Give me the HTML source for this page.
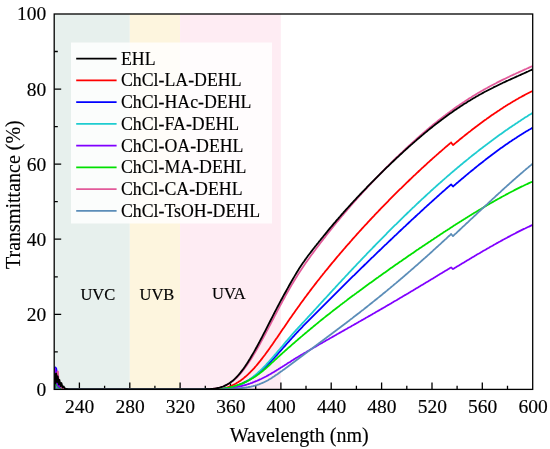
<!DOCTYPE html>
<html lang="en"><head><meta charset="utf-8"><title>Transmittance spectra</title>
<style>html,body{margin:0;padding:0;background:#fff}body{width:550px;height:449px;overflow:hidden}</style></head>
<body>
<svg width="550" height="449" viewBox="0 0 550 449" style="display:block">
<defs><clipPath id="cp"><rect x="54.2" y="14.0" width="478.5" height="376.0"/></clipPath></defs>
<rect width="550" height="449" fill="#fff"/>
<rect x="54.2" y="14.0" width="75.6" height="375.4" fill="#E7F0ED"/>
<rect x="129.8" y="14.0" width="50.4" height="375.4" fill="#FDF5DE"/>
<rect x="180.1" y="14.0" width="100.7" height="375.4" fill="#FEECF3"/>
<rect x="71" y="42.5" width="201" height="181.0" fill="#ffffff" fill-opacity="0.82"/>
<path d="M79.4 389.4v-7M104.6 389.4v-3.6M129.8 389.4v-7M154.9 389.4v-3.6M180.1 389.4v-7M205.3 389.4v-3.6M230.5 389.4v-7M255.7 389.4v-3.6M280.9 389.4v-7M306.0 389.4v-3.6M331.2 389.4v-7M356.4 389.4v-3.6M381.6 389.4v-7M406.8 389.4v-3.6M432.0 389.4v-7M457.1 389.4v-3.6M482.3 389.4v-7M507.5 389.4v-3.6M54.2 351.9h3.6M54.2 314.3h7M54.2 276.8h3.6M54.2 239.2h7M54.2 201.7h3.6M54.2 164.2h7M54.2 126.6h3.6M54.2 89.1h7M54.2 51.5h3.6" stroke="#000" stroke-width="1.3" fill="none"/>
<g fill="none" stroke-width="1.8" stroke-linejoin="round" stroke-linecap="butt" clip-path="url(#cp)">
<path d="M54.3 381.0L55.5 378.0L56.5 382.0L57.5 384.0L58.5 387.0L60.0 388.5L66.0 389.5" stroke="#FF0000"/>
<path d="M66 389.5L196.0 389.5L197.0 389.5L198.0 389.5L199.0 389.5L200.0 389.5L201.0 389.5L202.0 389.5L203.0 389.5L204.0 389.5L205.0 389.5L206.0 389.5L207.0 389.5L208.0 389.5L209.0 389.5L210.0 389.5L211.0 389.5L212.0 389.5L213.0 389.5L214.0 389.5L215.0 389.5L216.0 389.5L217.0 389.5L218.0 389.5L219.0 389.5L220.0 389.5L221.0 389.1L222.0 388.9L223.0 388.7L224.0 388.4L225.0 388.2L226.0 387.9L227.0 387.5L228.0 387.2L229.0 386.8L230.0 386.4L231.0 386.0L232.0 385.5L233.0 385.0L234.0 384.5L235.0 384.0L236.0 383.4L237.0 382.8L238.0 382.2L239.0 381.5L240.0 380.9L241.0 380.2L242.0 379.4L243.0 378.7L244.0 377.9L245.0 377.0L246.0 376.2L247.0 375.3L248.0 374.4L249.0 373.4L250.0 372.5L251.0 371.4L252.0 370.4L253.0 369.3L254.0 368.3L255.0 367.1L256.0 366.0L257.0 364.8L258.0 363.6L259.0 362.4L260.0 361.2L261.0 359.9L262.0 358.6L263.0 357.3L264.0 356.0L265.0 354.7L266.0 353.3L267.0 351.9L268.0 350.6L269.0 349.2L270.0 347.8L271.0 346.3L272.0 344.9L273.0 343.5L274.0 342.0L275.0 340.6L276.0 339.1L277.0 337.7L278.0 336.2L279.0 334.7L280.0 333.3L281.0 331.8L282.0 330.3L283.0 328.8L284.0 327.4L285.0 325.9L286.0 324.4L287.0 323.0L288.0 321.5L289.0 320.1L290.0 318.6L291.0 317.2L292.0 315.8L293.0 314.3L294.0 312.9L295.0 311.5L296.0 310.1L297.0 308.7L298.0 307.3L299.0 305.9L300.0 304.5L301.0 303.1L302.0 301.7L303.0 300.4L304.0 299.0L305.0 297.6L306.0 296.3L307.0 294.9L308.0 293.6L309.0 292.3L310.0 290.9L311.0 289.6L312.0 288.3L313.0 287.0L314.0 285.7L315.0 284.4L316.0 283.1L317.0 281.8L318.0 280.5L319.0 279.3L320.0 278.0L321.0 276.7L322.0 275.5L323.0 274.2L324.0 273.0L325.0 271.7L326.0 270.5L327.0 269.3L328.0 268.1L329.0 266.8L330.0 265.6L331.0 264.4L332.0 263.2L333.0 262.0L334.0 260.8L335.0 259.6L336.0 258.4L337.0 257.2L338.0 256.0L339.0 254.9L340.0 253.7L341.0 252.5L342.0 251.3L343.0 250.2L344.0 249.0L345.0 247.9L346.0 246.7L347.0 245.5L348.0 244.4L349.0 243.3L350.0 242.1L351.0 241.0L352.0 239.8L353.0 238.7L354.0 237.6L355.0 236.5L356.0 235.4L357.0 234.2L358.0 233.1L359.0 232.0L360.0 230.9L361.0 229.8L362.0 228.7L363.0 227.6L364.0 226.5L365.0 225.4L366.0 224.4L367.0 223.3L368.0 222.2L369.0 221.1L370.0 220.0L371.0 219.0L372.0 217.9L373.0 216.8L374.0 215.8L375.0 214.7L376.0 213.7L377.0 212.6L378.0 211.6L379.0 210.5L380.0 209.5L381.0 208.4L382.0 207.4L383.0 206.4L384.0 205.3L385.0 204.3L386.0 203.3L387.0 202.3L388.0 201.3L389.0 200.2L390.0 199.2L391.0 198.2L392.0 197.2L393.0 196.2L394.0 195.2L395.0 194.2L396.0 193.2L397.0 192.2L398.0 191.2L399.0 190.2L400.0 189.2L401.0 188.3L402.0 187.3L403.0 186.3L404.0 185.3L405.0 184.4L406.0 183.4L407.0 182.4L408.0 181.5L409.0 180.5L410.0 179.5L411.0 178.6L412.0 177.6L413.0 176.7L414.0 175.7L415.0 174.8L416.0 173.8L417.0 172.9L418.0 172.0L419.0 171.0L420.0 170.1L421.0 169.2L422.0 168.2L423.0 167.3L424.0 166.4L425.0 165.5L426.0 164.6L427.0 163.6L428.0 162.7L429.0 161.8L430.0 160.9L431.0 160.0L432.0 159.1L433.0 158.2L434.0 157.3L435.0 156.4L436.0 155.6L437.0 154.7L438.0 153.8L439.0 152.9L440.0 152.0L441.0 151.2L442.0 150.3L443.0 149.4L444.0 148.6L445.0 147.7L446.0 146.8L447.0 146.0L448.0 145.1L449.0 144.3L450.0 143.4L451.0 142.6L451.1 142.5L452.0 143.7L453.0 145.1L453.0 145.1L454.0 144.3L455.0 143.4L456.0 142.6L457.0 141.8L458.0 141.0L459.0 140.1L460.0 139.3L461.0 138.5L462.0 137.7L463.0 136.9L464.0 136.1L465.0 135.3L466.0 134.5L467.0 133.7L468.0 132.9L469.0 132.1L470.0 131.4L471.0 130.6L472.0 129.8L473.0 129.0L474.0 128.3L475.0 127.5L476.0 126.7L477.0 126.0L478.0 125.2L479.0 124.5L480.0 123.7L481.0 123.0L482.0 122.3L483.0 121.5L484.0 120.8L485.0 120.1L486.0 119.4L487.0 118.6L488.0 117.9L489.0 117.2L490.0 116.5L491.0 115.8L492.0 115.1L493.0 114.4L494.0 113.7L495.0 113.1L496.0 112.4L497.0 111.7L498.0 111.0L499.0 110.4L500.0 109.7L501.0 109.1L502.0 108.4L503.0 107.8L504.0 107.1L505.0 106.5L506.0 105.8L507.0 105.2L508.0 104.6L509.0 104.0L510.0 103.4L511.0 102.8L512.0 102.2L513.0 101.6L514.0 101.0L515.0 100.4L516.0 99.8L517.0 99.2L518.0 98.7L519.0 98.1L520.0 97.5L521.0 97.0L522.0 96.4L523.0 95.9L524.0 95.4L525.0 94.8L526.0 94.3L527.0 93.8L528.0 93.3L529.0 92.8L530.0 92.3L531.0 91.8L532.0 91.3L532.7 90.9" stroke="#FF0000"/>
<path d="M54.3 375.0L55.2 367.5L56.2 368.5L57.0 374.0L57.5 382.0L58.5 386.0L60.0 388.0L62.0 389.5" stroke="#0000FF"/>
<path d="M66 389.5L196.0 389.5L197.0 389.5L198.0 389.5L199.0 389.5L200.0 389.5L201.0 389.5L202.0 389.5L203.0 389.5L204.0 389.5L205.0 389.5L206.0 389.5L207.0 389.5L208.0 389.5L209.0 389.5L210.0 389.5L211.0 389.5L212.0 389.5L213.0 389.5L214.0 389.5L215.0 389.5L216.0 389.5L217.0 389.5L218.0 389.5L219.0 389.1L220.0 389.1L221.0 389.0L222.0 388.9L223.0 388.8L224.0 388.6L225.0 388.5L226.0 388.3L227.0 388.2L228.0 388.0L229.0 387.8L230.0 387.5L231.0 387.3L232.0 387.1L233.0 386.8L234.0 386.5L235.0 386.2L236.0 385.9L237.0 385.5L238.0 385.2L239.0 384.8L240.0 384.4L241.0 384.0L242.0 383.6L243.0 383.1L244.0 382.6L245.0 382.1L246.0 381.6L247.0 381.1L248.0 380.5L249.0 379.9L250.0 379.3L251.0 378.7L252.0 378.0L253.0 377.4L254.0 376.6L255.0 375.9L256.0 375.2L257.0 374.4L258.0 373.6L259.0 372.7L260.0 371.9L261.0 371.0L262.0 370.1L263.0 369.2L264.0 368.3L265.0 367.3L266.0 366.4L267.0 365.4L268.0 364.4L269.0 363.3L270.0 362.3L271.0 361.3L272.0 360.2L273.0 359.1L274.0 358.1L275.0 357.0L276.0 355.9L277.0 354.8L278.0 353.7L279.0 352.5L280.0 351.4L281.0 350.3L282.0 349.2L283.0 348.0L284.0 346.9L285.0 345.8L286.0 344.7L287.0 343.5L288.0 342.4L289.0 341.3L290.0 340.2L291.0 339.1L292.0 338.0L293.0 336.9L294.0 335.8L295.0 334.7L296.0 333.6L297.0 332.5L298.0 331.5L299.0 330.4L300.0 329.4L301.0 328.3L302.0 327.3L303.0 326.2L304.0 325.2L305.0 324.2L306.0 323.2L307.0 322.2L308.0 321.2L309.0 320.1L310.0 319.1L311.0 318.1L312.0 317.1L313.0 316.1L314.0 315.1L315.0 314.1L316.0 313.1L317.0 312.1L318.0 311.1L319.0 310.1L320.0 309.1L321.0 308.1L322.0 307.1L323.0 306.1L324.0 305.1L325.0 304.1L326.0 303.1L327.0 302.1L328.0 301.1L329.0 300.1L330.0 299.1L331.0 298.1L332.0 297.1L333.0 296.1L334.0 295.1L335.0 294.1L336.0 293.1L337.0 292.1L338.0 291.1L339.0 290.1L340.0 289.1L341.0 288.1L342.0 287.1L343.0 286.1L344.0 285.1L345.0 284.1L346.0 283.1L347.0 282.1L348.0 281.2L349.0 280.2L350.0 279.2L351.0 278.2L352.0 277.2L353.0 276.2L354.0 275.3L355.0 274.3L356.0 273.3L357.0 272.3L358.0 271.3L359.0 270.4L360.0 269.4L361.0 268.4L362.0 267.4L363.0 266.5L364.0 265.5L365.0 264.5L366.0 263.6L367.0 262.6L368.0 261.6L369.0 260.6L370.0 259.7L371.0 258.7L372.0 257.7L373.0 256.8L374.0 255.8L375.0 254.8L376.0 253.9L377.0 252.9L378.0 251.9L379.0 251.0L380.0 250.0L381.0 249.1L382.0 248.1L383.0 247.1L384.0 246.2L385.0 245.2L386.0 244.3L387.0 243.3L388.0 242.4L389.0 241.4L390.0 240.5L391.0 239.5L392.0 238.6L393.0 237.6L394.0 236.7L395.0 235.7L396.0 234.8L397.0 233.8L398.0 232.9L399.0 231.9L400.0 231.0L401.0 230.0L402.0 229.1L403.0 228.2L404.0 227.2L405.0 226.3L406.0 225.3L407.0 224.4L408.0 223.5L409.0 222.5L410.0 221.6L411.0 220.7L412.0 219.7L413.0 218.8L414.0 217.9L415.0 217.0L416.0 216.0L417.0 215.1L418.0 214.2L419.0 213.3L420.0 212.3L421.0 211.4L422.0 210.5L423.0 209.6L424.0 208.7L425.0 207.7L426.0 206.8L427.0 205.9L428.0 205.0L429.0 204.1L430.0 203.2L431.0 202.3L432.0 201.4L433.0 200.5L434.0 199.6L435.0 198.7L436.0 197.8L437.0 196.9L438.0 196.0L439.0 195.1L440.0 194.2L441.0 193.3L442.0 192.4L443.0 191.5L444.0 190.7L445.0 189.8L446.0 188.9L447.0 188.0L448.0 187.1L449.0 186.3L450.0 185.4L451.0 184.5L451.1 184.4L452.0 185.4L453.0 186.5L453.0 186.5L454.0 185.6L455.0 184.8L456.0 183.9L457.0 183.0L458.0 182.2L459.0 181.3L460.0 180.5L461.0 179.6L462.0 178.8L463.0 178.0L464.0 177.1L465.0 176.3L466.0 175.4L467.0 174.6L468.0 173.8L469.0 172.9L470.0 172.1L471.0 171.3L472.0 170.5L473.0 169.7L474.0 168.9L475.0 168.0L476.0 167.2L477.0 166.4L478.0 165.6L479.0 164.8L480.0 164.0L481.0 163.2L482.0 162.5L483.0 161.7L484.0 160.9L485.0 160.1L486.0 159.3L487.0 158.6L488.0 157.8L489.0 157.0L490.0 156.3L491.0 155.5L492.0 154.7L493.0 154.0L494.0 153.3L495.0 152.5L496.0 151.8L497.0 151.0L498.0 150.3L499.0 149.6L500.0 148.8L501.0 148.1L502.0 147.4L503.0 146.7L504.0 146.0L505.0 145.3L506.0 144.6L507.0 143.9L508.0 143.2L509.0 142.5L510.0 141.8L511.0 141.2L512.0 140.5L513.0 139.8L514.0 139.2L515.0 138.5L516.0 137.9L517.0 137.2L518.0 136.6L519.0 135.9L520.0 135.3L521.0 134.7L522.0 134.1L523.0 133.4L524.0 132.8L525.0 132.2L526.0 131.6L527.0 131.0L528.0 130.4L529.0 129.8L530.0 129.3L531.0 128.7L532.0 128.1L532.7 127.7" stroke="#0000FF"/>
<path d="M54.3 384.0L55.0 383.0L55.6 388.0L56.4 385.0L57.0 388.5L60.0 389.5" stroke="#1ECCD0"/>
<path d="M66 389.5L196.0 389.5L197.0 389.5L198.0 389.5L199.0 389.5L200.0 389.5L201.0 389.5L202.0 389.5L203.0 389.5L204.0 389.5L205.0 389.5L206.0 389.2L207.0 389.2L208.0 389.2L209.0 389.1L210.0 389.1L211.0 389.1L212.0 389.1L213.0 389.1L214.0 389.1L215.0 389.1L216.0 389.0L217.0 389.0L218.0 389.0L219.0 389.0L220.0 388.9L221.0 388.8L222.0 388.8L223.0 388.7L224.0 388.6L225.0 388.5L226.0 388.4L227.0 388.3L228.0 388.1L229.0 388.0L230.0 387.8L231.0 387.6L232.0 387.4L233.0 387.1L234.0 386.9L235.0 386.6L236.0 386.3L237.0 386.0L238.0 385.6L239.0 385.3L240.0 384.9L241.0 384.4L242.0 384.0L243.0 383.5L244.0 383.0L245.0 382.4L246.0 381.8L247.0 381.2L248.0 380.6L249.0 379.9L250.0 379.2L251.0 378.5L252.0 377.7L253.0 376.9L254.0 376.1L255.0 375.3L256.0 374.4L257.0 373.6L258.0 372.7L259.0 371.7L260.0 370.8L261.0 369.8L262.0 368.9L263.0 367.9L264.0 366.8L265.0 365.8L266.0 364.8L267.0 363.7L268.0 362.6L269.0 361.5L270.0 360.4L271.0 359.3L272.0 358.2L273.0 357.0L274.0 355.9L275.0 354.7L276.0 353.6L277.0 352.4L278.0 351.2L279.0 350.0L280.0 348.9L281.0 347.7L282.0 346.5L283.0 345.3L284.0 344.1L285.0 342.9L286.0 341.7L287.0 340.5L288.0 339.3L289.0 338.2L290.0 337.0L291.0 335.8L292.0 334.7L293.0 333.5L294.0 332.4L295.0 331.3L296.0 330.2L297.0 329.1L298.0 328.0L299.0 327.0L300.0 325.9L301.0 324.8L302.0 323.7L303.0 322.6L304.0 321.6L305.0 320.5L306.0 319.4L307.0 318.3L308.0 317.2L309.0 316.1L310.0 315.0L311.0 314.0L312.0 312.9L313.0 311.8L314.0 310.7L315.0 309.6L316.0 308.5L317.0 307.4L318.0 306.3L319.0 305.2L320.0 304.1L321.0 303.0L322.0 301.9L323.0 300.8L324.0 299.7L325.0 298.6L326.0 297.6L327.0 296.5L328.0 295.4L329.0 294.3L330.0 293.2L331.0 292.1L332.0 291.0L333.0 289.9L334.0 288.8L335.0 287.8L336.0 286.7L337.0 285.6L338.0 284.5L339.0 283.4L340.0 282.4L341.0 281.3L342.0 280.2L343.0 279.1L344.0 278.1L345.0 277.0L346.0 275.9L347.0 274.9L348.0 273.8L349.0 272.7L350.0 271.7L351.0 270.6L352.0 269.5L353.0 268.5L354.0 267.4L355.0 266.4L356.0 265.3L357.0 264.2L358.0 263.2L359.0 262.1L360.0 261.1L361.0 260.0L362.0 259.0L363.0 257.9L364.0 256.9L365.0 255.8L366.0 254.8L367.0 253.7L368.0 252.7L369.0 251.7L370.0 250.6L371.0 249.6L372.0 248.6L373.0 247.5L374.0 246.5L375.0 245.5L376.0 244.4L377.0 243.4L378.0 242.4L379.0 241.4L380.0 240.3L381.0 239.3L382.0 238.3L383.0 237.3L384.0 236.3L385.0 235.3L386.0 234.3L387.0 233.2L388.0 232.2L389.0 231.2L390.0 230.2L391.0 229.2L392.0 228.2L393.0 227.2L394.0 226.2L395.0 225.2L396.0 224.3L397.0 223.3L398.0 222.3L399.0 221.3L400.0 220.3L401.0 219.3L402.0 218.3L403.0 217.4L404.0 216.4L405.0 215.4L406.0 214.5L407.0 213.5L408.0 212.5L409.0 211.6L410.0 210.6L411.0 209.6L412.0 208.7L413.0 207.7L414.0 206.8L415.0 205.8L416.0 204.9L417.0 203.9L418.0 203.0L419.0 202.0L420.0 201.1L421.0 200.2L422.0 199.2L423.0 198.3L424.0 197.4L425.0 196.5L426.0 195.5L427.0 194.6L428.0 193.7L429.0 192.8L430.0 191.9L431.0 190.9L432.0 190.0L433.0 189.1L434.0 188.2L435.0 187.3L436.0 186.4L437.0 185.5L438.0 184.6L439.0 183.7L440.0 182.9L441.0 182.0L442.0 181.1L443.0 180.2L444.0 179.3L445.0 178.4L446.0 177.6L447.0 176.7L448.0 175.8L449.0 175.0L450.0 174.1L451.0 173.2L451.1 173.2L452.0 172.4L453.0 171.5L453.0 171.5L454.0 170.7L455.0 169.8L456.0 169.0L457.0 168.1L458.0 167.3L459.0 166.5L460.0 165.6L461.0 164.8L462.0 164.0L463.0 163.1L464.0 162.3L465.0 161.5L466.0 160.7L467.0 159.9L468.0 159.1L469.0 158.2L470.0 157.4L471.0 156.6L472.0 155.8L473.0 155.0L474.0 154.2L475.0 153.4L476.0 152.7L477.0 151.9L478.0 151.1L479.0 150.3L480.0 149.5L481.0 148.7L482.0 148.0L483.0 147.2L484.0 146.4L485.0 145.7L486.0 144.9L487.0 144.2L488.0 143.4L489.0 142.7L490.0 141.9L491.0 141.2L492.0 140.4L493.0 139.7L494.0 138.9L495.0 138.2L496.0 137.5L497.0 136.8L498.0 136.0L499.0 135.3L500.0 134.6L501.0 133.9L502.0 133.2L503.0 132.5L504.0 131.7L505.0 131.0L506.0 130.3L507.0 129.7L508.0 129.0L509.0 128.3L510.0 127.6L511.0 126.9L512.0 126.2L513.0 125.5L514.0 124.9L515.0 124.2L516.0 123.5L517.0 122.9L518.0 122.2L519.0 121.5L520.0 120.9L521.0 120.2L522.0 119.6L523.0 118.9L524.0 118.3L525.0 117.6L526.0 117.0L527.0 116.4L528.0 115.7L529.0 115.1L530.0 114.5L531.0 113.9L532.0 113.2L532.7 112.8" stroke="#1ECCD0"/>
<path d="M54.3 372.0L55.0 368.5L55.8 372.0L56.5 380.0L57.0 386.0L58.0 384.5L59.0 387.0L60.0 385.5L61.0 388.0L63.0 389.5" stroke="#8000FF"/>
<path d="M66 389.5L196.0 389.5L197.0 389.5L198.0 389.5L199.0 389.5L200.0 389.5L201.0 389.5L202.0 389.5L203.0 389.5L204.0 389.5L205.0 389.5L206.0 389.5L207.0 389.5L208.0 389.5L209.0 389.5L210.0 389.5L211.0 389.5L212.0 389.5L213.0 389.5L214.0 389.5L215.0 389.5L216.0 389.5L217.0 389.5L218.0 389.5L219.0 389.2L220.0 389.2L221.0 389.1L222.0 389.1L223.0 389.0L224.0 389.0L225.0 388.9L226.0 388.8L227.0 388.7L228.0 388.6L229.0 388.5L230.0 388.3L231.0 388.2L232.0 388.0L233.0 387.9L234.0 387.7L235.0 387.5L236.0 387.3L237.0 387.1L238.0 386.9L239.0 386.7L240.0 386.5L241.0 386.2L242.0 386.0L243.0 385.7L244.0 385.4L245.0 385.1L246.0 384.8L247.0 384.5L248.0 384.2L249.0 383.8L250.0 383.5L251.0 383.1L252.0 382.8L253.0 382.4L254.0 382.0L255.0 381.6L256.0 381.2L257.0 380.8L258.0 380.3L259.0 379.9L260.0 379.4L261.0 379.0L262.0 378.5L263.0 378.0L264.0 377.5L265.0 377.0L266.0 376.5L267.0 375.9L268.0 375.4L269.0 374.8L270.0 374.3L271.0 373.7L272.0 373.1L273.0 372.5L274.0 371.9L275.0 371.3L276.0 370.7L277.0 370.1L278.0 369.5L279.0 368.8L280.0 368.2L281.0 367.6L282.0 367.0L283.0 366.3L284.0 365.7L285.0 365.0L286.0 364.4L287.0 363.8L288.0 363.1L289.0 362.5L290.0 361.9L291.0 361.2L292.0 360.6L293.0 360.0L294.0 359.3L295.0 358.7L296.0 358.1L297.0 357.5L298.0 356.9L299.0 356.3L300.0 355.7L301.0 355.1L302.0 354.5L303.0 353.9L304.0 353.3L305.0 352.7L306.0 352.2L307.0 351.6L308.0 351.0L309.0 350.4L310.0 349.8L311.0 349.2L312.0 348.7L313.0 348.1L314.0 347.5L315.0 346.9L316.0 346.4L317.0 345.8L318.0 345.2L319.0 344.6L320.0 344.0L321.0 343.5L322.0 342.9L323.0 342.3L324.0 341.8L325.0 341.2L326.0 340.6L327.0 340.0L328.0 339.5L329.0 338.9L330.0 338.3L331.0 337.8L332.0 337.2L333.0 336.6L334.0 336.1L335.0 335.5L336.0 334.9L337.0 334.3L338.0 333.8L339.0 333.2L340.0 332.6L341.0 332.1L342.0 331.5L343.0 330.9L344.0 330.4L345.0 329.8L346.0 329.2L347.0 328.7L348.0 328.1L349.0 327.5L350.0 327.0L351.0 326.4L352.0 325.8L353.0 325.3L354.0 324.7L355.0 324.1L356.0 323.6L357.0 323.0L358.0 322.4L359.0 321.8L360.0 321.3L361.0 320.7L362.0 320.1L363.0 319.6L364.0 319.0L365.0 318.4L366.0 317.8L367.0 317.3L368.0 316.7L369.0 316.1L370.0 315.6L371.0 315.0L372.0 314.4L373.0 313.8L374.0 313.3L375.0 312.7L376.0 312.1L377.0 311.5L378.0 310.9L379.0 310.4L380.0 309.8L381.0 309.2L382.0 308.6L383.0 308.1L384.0 307.5L385.0 306.9L386.0 306.3L387.0 305.7L388.0 305.1L389.0 304.6L390.0 304.0L391.0 303.4L392.0 302.8L393.0 302.2L394.0 301.6L395.0 301.0L396.0 300.5L397.0 299.9L398.0 299.3L399.0 298.7L400.0 298.1L401.0 297.5L402.0 296.9L403.0 296.3L404.0 295.7L405.0 295.1L406.0 294.6L407.0 294.0L408.0 293.4L409.0 292.8L410.0 292.2L411.0 291.6L412.0 291.0L413.0 290.4L414.0 289.8L415.0 289.2L416.0 288.6L417.0 288.0L418.0 287.4L419.0 286.8L420.0 286.2L421.0 285.6L422.0 285.0L423.0 284.4L424.0 283.8L425.0 283.2L426.0 282.6L427.0 282.0L428.0 281.4L429.0 280.8L430.0 280.2L431.0 279.6L432.0 279.0L433.0 278.4L434.0 277.8L435.0 277.2L436.0 276.6L437.0 275.9L438.0 275.3L439.0 274.7L440.0 274.1L441.0 273.5L442.0 272.9L443.0 272.3L444.0 271.7L445.0 271.1L446.0 270.5L447.0 269.9L448.0 269.3L449.0 268.7L450.0 268.1L451.0 267.5L451.1 267.4L452.0 268.2L453.0 269.0L453.0 269.0L454.0 268.4L455.0 267.8L456.0 267.2L457.0 266.6L458.0 266.0L459.0 265.4L460.0 264.8L461.0 264.2L462.0 263.6L463.0 263.0L464.0 262.4L465.0 261.8L466.0 261.2L467.0 260.6L468.0 260.0L469.0 259.4L470.0 258.8L471.0 258.2L472.0 257.6L473.0 257.0L474.0 256.4L475.0 255.8L476.0 255.2L477.0 254.6L478.0 254.0L479.0 253.5L480.0 252.9L481.0 252.3L482.0 251.7L483.0 251.1L484.0 250.5L485.0 250.0L486.0 249.4L487.0 248.8L488.0 248.2L489.0 247.7L490.0 247.1L491.0 246.5L492.0 246.0L493.0 245.4L494.0 244.8L495.0 244.3L496.0 243.7L497.0 243.1L498.0 242.6L499.0 242.0L500.0 241.5L501.0 240.9L502.0 240.4L503.0 239.8L504.0 239.3L505.0 238.7L506.0 238.2L507.0 237.7L508.0 237.1L509.0 236.6L510.0 236.1L511.0 235.5L512.0 235.0L513.0 234.5L514.0 234.0L515.0 233.5L516.0 232.9L517.0 232.4L518.0 231.9L519.0 231.4L520.0 230.9L521.0 230.4L522.0 229.9L523.0 229.4L524.0 228.9L525.0 228.5L526.0 228.0L527.0 227.5L528.0 227.0L529.0 226.6L530.0 226.1L531.0 225.6L532.0 225.2L532.7 224.8" stroke="#8000FF"/>
<path d="M54.3 385.0L55.5 384.0L56.5 387.0L57.5 388.0L60.0 389.2L66.0 389.5" stroke="#00E000"/>
<path d="M66 389.5L196.0 389.5L197.0 389.5L198.0 389.5L199.0 389.5L200.0 389.5L201.0 389.5L202.0 389.5L203.0 389.5L204.0 389.5L205.0 389.5L206.0 389.5L207.0 389.5L208.0 389.5L209.0 389.5L210.0 389.5L211.0 389.5L212.0 389.5L213.0 389.5L214.0 389.5L215.0 389.5L216.0 389.5L217.0 389.5L218.0 389.2L219.0 389.1L220.0 389.0L221.0 388.9L222.0 388.8L223.0 388.6L224.0 388.5L225.0 388.3L226.0 388.1L227.0 388.0L228.0 387.8L229.0 387.6L230.0 387.3L231.0 387.1L232.0 386.8L233.0 386.6L234.0 386.3L235.0 386.0L236.0 385.7L237.0 385.4L238.0 385.0L239.0 384.7L240.0 384.3L241.0 383.9L242.0 383.5L243.0 383.1L244.0 382.6L245.0 382.2L246.0 381.7L247.0 381.2L248.0 380.7L249.0 380.2L250.0 379.7L251.0 379.1L252.0 378.5L253.0 377.9L254.0 377.3L255.0 376.7L256.0 376.0L257.0 375.3L258.0 374.6L259.0 373.9L260.0 373.1L261.0 372.3L262.0 371.5L263.0 370.7L264.0 369.9L265.0 369.0L266.0 368.2L267.0 367.3L268.0 366.4L269.0 365.5L270.0 364.6L271.0 363.6L272.0 362.7L273.0 361.8L274.0 360.9L275.0 359.9L276.0 359.0L277.0 358.1L278.0 357.2L279.0 356.3L280.0 355.4L281.0 354.5L282.0 353.6L283.0 352.7L284.0 351.8L285.0 350.9L286.0 350.0L287.0 349.1L288.0 348.2L289.0 347.3L290.0 346.5L291.0 345.6L292.0 344.7L293.0 343.8L294.0 343.0L295.0 342.1L296.0 341.2L297.0 340.4L298.0 339.5L299.0 338.6L300.0 337.8L301.0 336.9L302.0 336.1L303.0 335.2L304.0 334.4L305.0 333.5L306.0 332.7L307.0 331.9L308.0 331.0L309.0 330.2L310.0 329.4L311.0 328.5L312.0 327.7L313.0 326.9L314.0 326.0L315.0 325.2L316.0 324.4L317.0 323.6L318.0 322.8L319.0 321.9L320.0 321.1L321.0 320.3L322.0 319.5L323.0 318.7L324.0 317.9L325.0 317.1L326.0 316.3L327.0 315.5L328.0 314.7L329.0 314.0L330.0 313.2L331.0 312.4L332.0 311.6L333.0 310.8L334.0 310.0L335.0 309.3L336.0 308.5L337.0 307.7L338.0 306.9L339.0 306.2L340.0 305.4L341.0 304.6L342.0 303.9L343.0 303.1L344.0 302.4L345.0 301.6L346.0 300.9L347.0 300.1L348.0 299.3L349.0 298.6L350.0 297.8L351.0 297.1L352.0 296.3L353.0 295.6L354.0 294.9L355.0 294.1L356.0 293.4L357.0 292.6L358.0 291.9L359.0 291.2L360.0 290.4L361.0 289.7L362.0 289.0L363.0 288.2L364.0 287.5L365.0 286.8L366.0 286.0L367.0 285.3L368.0 284.6L369.0 283.8L370.0 283.1L371.0 282.4L372.0 281.7L373.0 281.0L374.0 280.2L375.0 279.5L376.0 278.8L377.0 278.1L378.0 277.4L379.0 276.6L380.0 275.9L381.0 275.2L382.0 274.5L383.0 273.8L384.0 273.1L385.0 272.4L386.0 271.7L387.0 271.0L388.0 270.3L389.0 269.5L390.0 268.8L391.0 268.1L392.0 267.4L393.0 266.7L394.0 266.0L395.0 265.3L396.0 264.6L397.0 263.9L398.0 263.2L399.0 262.5L400.0 261.8L401.0 261.2L402.0 260.5L403.0 259.8L404.0 259.1L405.0 258.4L406.0 257.7L407.0 257.0L408.0 256.3L409.0 255.6L410.0 254.9L411.0 254.2L412.0 253.6L413.0 252.9L414.0 252.2L415.0 251.5L416.0 250.8L417.0 250.1L418.0 249.5L419.0 248.8L420.0 248.1L421.0 247.4L422.0 246.8L423.0 246.1L424.0 245.4L425.0 244.7L426.0 244.1L427.0 243.4L428.0 242.7L429.0 242.0L430.0 241.4L431.0 240.7L432.0 240.0L433.0 239.4L434.0 238.7L435.0 238.0L436.0 237.4L437.0 236.7L438.0 236.1L439.0 235.4L440.0 234.7L441.0 234.1L442.0 233.4L443.0 232.8L444.0 232.1L445.0 231.5L446.0 230.8L447.0 230.2L448.0 229.5L449.0 228.9L450.0 228.2L451.0 227.6L451.1 227.5L452.0 226.9L453.0 226.3L453.0 226.3L454.0 225.6L455.0 225.0L456.0 224.3L457.0 223.7L458.0 223.1L459.0 222.4L460.0 221.8L461.0 221.2L462.0 220.5L463.0 219.9L464.0 219.3L465.0 218.7L466.0 218.0L467.0 217.4L468.0 216.8L469.0 216.2L470.0 215.6L471.0 214.9L472.0 214.3L473.0 213.7L474.0 213.1L475.0 212.5L476.0 211.9L477.0 211.3L478.0 210.7L479.0 210.1L480.0 209.5L481.0 208.9L482.0 208.3L483.0 207.7L484.0 207.1L485.0 206.5L486.0 205.9L487.0 205.3L488.0 204.7L489.0 204.2L490.0 203.6L491.0 203.0L492.0 202.4L493.0 201.9L494.0 201.3L495.0 200.7L496.0 200.1L497.0 199.6L498.0 199.0L499.0 198.5L500.0 197.9L501.0 197.4L502.0 196.8L503.0 196.3L504.0 195.7L505.0 195.2L506.0 194.6L507.0 194.1L508.0 193.6L509.0 193.0L510.0 192.5L511.0 192.0L512.0 191.5L513.0 191.0L514.0 190.4L515.0 189.9L516.0 189.4L517.0 188.9L518.0 188.4L519.0 187.9L520.0 187.4L521.0 186.9L522.0 186.4L523.0 186.0L524.0 185.5L525.0 185.0L526.0 184.5L527.0 184.1L528.0 183.6L529.0 183.1L530.0 182.7L531.0 182.2L532.0 181.8L532.7 181.5" stroke="#00E000"/>
<path d="M54.3 380.0L56.0 375.0L57.9 371.5L58.3 377.0L59.0 382.0L60.5 386.0L62.5 388.5L66.0 389.5" stroke="#E25A9A"/>
<path d="M66 389.5L196.0 389.5L197.0 389.5L198.0 389.5L199.0 389.5L200.0 389.5L201.0 389.5L202.0 389.5L203.0 389.5L204.0 389.5L205.0 389.5L206.0 389.5L207.0 389.5L208.0 389.2L209.0 389.2L210.0 389.1L211.0 389.0L212.0 389.0L213.0 388.9L214.0 388.7L215.0 388.6L216.0 388.4L217.0 388.3L218.0 388.0L219.0 387.8L220.0 387.5L221.0 387.2L222.0 386.9L223.0 386.6L224.0 386.2L225.0 385.7L226.0 385.3L227.0 384.8L228.0 384.2L229.0 383.6L230.0 383.0L231.0 382.3L232.0 381.6L233.0 380.9L234.0 380.1L235.0 379.2L236.0 378.3L237.0 377.3L238.0 376.3L239.0 375.2L240.0 374.1L241.0 373.0L242.0 371.7L243.0 370.5L244.0 369.2L245.0 367.8L246.0 366.5L247.0 365.0L248.0 363.6L249.0 362.1L250.0 360.6L251.0 359.0L252.0 357.4L253.0 355.8L254.0 354.1L255.0 352.5L256.0 350.8L257.0 349.0L258.0 347.3L259.0 345.5L260.0 343.7L261.0 341.9L262.0 340.1L263.0 338.2L264.0 336.4L265.0 334.5L266.0 332.6L267.0 330.7L268.0 328.8L269.0 326.9L270.0 325.0L271.0 323.1L272.0 321.2L273.0 319.3L274.0 317.3L275.0 315.4L276.0 313.5L277.0 311.6L278.0 309.7L279.0 307.8L280.0 305.9L281.0 304.0L282.0 302.2L283.0 300.3L284.0 298.5L285.0 296.7L286.0 294.8L287.0 293.0L288.0 291.3L289.0 289.5L290.0 287.8L291.0 286.0L292.0 284.3L293.0 282.7L294.0 281.0L295.0 279.4L296.0 277.8L297.0 276.2L298.0 274.6L299.0 273.0L300.0 271.5L301.0 270.0L302.0 268.5L303.0 267.0L304.0 265.5L305.0 264.1L306.0 262.6L307.0 261.2L308.0 259.8L309.0 258.4L310.0 257.0L311.0 255.6L312.0 254.2L313.0 252.9L314.0 251.5L315.0 250.2L316.0 248.8L317.0 247.5L318.0 246.2L319.0 244.9L320.0 243.5L321.0 242.2L322.0 240.9L323.0 239.6L324.0 238.3L325.0 237.1L326.0 235.8L327.0 234.5L328.0 233.2L329.0 232.0L330.0 230.7L331.0 229.4L332.0 228.2L333.0 226.9L334.0 225.7L335.0 224.5L336.0 223.2L337.0 222.0L338.0 220.8L339.0 219.6L340.0 218.4L341.0 217.2L342.0 216.0L343.0 214.8L344.0 213.6L345.0 212.5L346.0 211.3L347.0 210.1L348.0 209.0L349.0 207.8L350.0 206.7L351.0 205.5L352.0 204.4L353.0 203.2L354.0 202.1L355.0 201.0L356.0 199.9L357.0 198.7L358.0 197.6L359.0 196.5L360.0 195.4L361.0 194.3L362.0 193.2L363.0 192.1L364.0 191.0L365.0 189.9L366.0 188.8L367.0 187.8L368.0 186.7L369.0 185.6L370.0 184.5L371.0 183.5L372.0 182.4L373.0 181.3L374.0 180.3L375.0 179.2L376.0 178.2L377.0 177.2L378.0 176.1L379.0 175.1L380.0 174.0L381.0 173.0L382.0 172.0L383.0 171.0L384.0 169.9L385.0 168.9L386.0 167.9L387.0 166.9L388.0 165.9L389.0 164.9L390.0 163.9L391.0 162.9L392.0 161.9L393.0 160.9L394.0 160.0L395.0 159.0L396.0 158.0L397.0 157.0L398.0 156.1L399.0 155.1L400.0 154.2L401.0 153.2L402.0 152.3L403.0 151.3L404.0 150.4L405.0 149.4L406.0 148.5L407.0 147.6L408.0 146.6L409.0 145.7L410.0 144.8L411.0 143.9L412.0 143.0L413.0 142.1L414.0 141.2L415.0 140.3L416.0 139.4L417.0 138.5L418.0 137.6L419.0 136.7L420.0 135.8L421.0 135.0L422.0 134.1L423.0 133.2L424.0 132.4L425.0 131.5L426.0 130.7L427.0 129.8L428.0 129.0L429.0 128.1L430.0 127.3L431.0 126.5L432.0 125.6L433.0 124.8L434.0 124.0L435.0 123.2L436.0 122.4L437.0 121.6L438.0 120.8L439.0 120.0L440.0 119.2L441.0 118.5L442.0 117.7L443.0 116.9L444.0 116.1L445.0 115.4L446.0 114.6L447.0 113.9L448.0 113.1L449.0 112.4L450.0 111.7L451.0 110.9L451.1 110.8L452.0 110.2L453.0 109.5L453.0 109.5L454.0 108.8L455.0 108.0L456.0 107.3L457.0 106.6L458.0 105.9L459.0 105.3L460.0 104.6L461.0 103.9L462.0 103.2L463.0 102.5L464.0 101.9L465.0 101.2L466.0 100.6L467.0 99.9L468.0 99.3L469.0 98.6L470.0 98.0L471.0 97.4L472.0 96.7L473.0 96.1L474.0 95.5L475.0 94.9L476.0 94.3L477.0 93.7L478.0 93.1L479.0 92.5L480.0 91.9L481.0 91.3L482.0 90.8L483.0 90.2L484.0 89.6L485.0 89.1L486.0 88.5L487.0 88.0L488.0 87.4L489.0 86.9L490.0 86.3L491.0 85.8L492.0 85.2L493.0 84.7L494.0 84.2L495.0 83.7L496.0 83.2L497.0 82.6L498.0 82.1L499.0 81.6L500.0 81.1L501.0 80.6L502.0 80.1L503.0 79.6L504.0 79.2L505.0 78.7L506.0 78.2L507.0 77.7L508.0 77.2L509.0 76.8L510.0 76.3L511.0 75.8L512.0 75.3L513.0 74.9L514.0 74.4L515.0 74.0L516.0 73.5L517.0 73.0L518.0 72.6L519.0 72.1L520.0 71.7L521.0 71.2L522.0 70.8L523.0 70.3L524.0 69.9L525.0 69.4L526.0 69.0L527.0 68.5L528.0 68.1L529.0 67.6L530.0 67.2L531.0 66.7L532.0 66.3L532.7 65.9" stroke="#E25A9A"/>
<path d="M54.3 387.0L55.5 386.0L56.5 388.0L57.5 389.0L60.0 389.5" stroke="#5B8DB8"/>
<path d="M66 389.5L196.0 389.5L197.0 389.5L198.0 389.5L199.0 389.5L200.0 389.5L201.0 389.5L202.0 389.5L203.0 389.5L204.0 389.5L205.0 389.5L206.0 389.5L207.0 389.5L208.0 389.5L209.0 389.5L210.0 389.5L211.0 389.5L212.0 389.5L213.0 389.5L214.0 389.5L215.0 389.5L216.0 389.5L217.0 389.5L218.0 389.5L219.0 389.5L220.0 389.5L221.0 389.5L222.0 389.5L223.0 389.2L224.0 389.1L225.0 389.1L226.0 389.0L227.0 389.0L228.0 388.9L229.0 388.9L230.0 388.8L231.0 388.8L232.0 388.7L233.0 388.7L234.0 388.6L235.0 388.6L236.0 388.5L237.0 388.5L238.0 388.4L239.0 388.3L240.0 388.2L241.0 388.1L242.0 388.0L243.0 387.9L244.0 387.8L245.0 387.6L246.0 387.5L247.0 387.3L248.0 387.2L249.0 387.0L250.0 386.8L251.0 386.6L252.0 386.3L253.0 386.1L254.0 385.8L255.0 385.6L256.0 385.3L257.0 385.0L258.0 384.6L259.0 384.3L260.0 383.9L261.0 383.5L262.0 383.1L263.0 382.7L264.0 382.2L265.0 381.7L266.0 381.2L267.0 380.7L268.0 380.2L269.0 379.6L270.0 379.0L271.0 378.4L272.0 377.8L273.0 377.1L274.0 376.5L275.0 375.8L276.0 375.1L277.0 374.5L278.0 373.8L279.0 373.0L280.0 372.3L281.0 371.6L282.0 370.9L283.0 370.1L284.0 369.4L285.0 368.7L286.0 367.9L287.0 367.2L288.0 366.5L289.0 365.7L290.0 365.0L291.0 364.2L292.0 363.5L293.0 362.7L294.0 362.0L295.0 361.2L296.0 360.5L297.0 359.7L298.0 359.0L299.0 358.2L300.0 357.5L301.0 356.7L302.0 356.0L303.0 355.2L304.0 354.5L305.0 353.7L306.0 353.0L307.0 352.2L308.0 351.5L309.0 350.7L310.0 350.0L311.0 349.2L312.0 348.5L313.0 347.7L314.0 347.0L315.0 346.2L316.0 345.5L317.0 344.7L318.0 344.0L319.0 343.2L320.0 342.5L321.0 341.7L322.0 341.0L323.0 340.2L324.0 339.5L325.0 338.7L326.0 338.0L327.0 337.2L328.0 336.5L329.0 335.8L330.0 335.0L331.0 334.3L332.0 333.5L333.0 332.8L334.0 332.0L335.0 331.3L336.0 330.5L337.0 329.8L338.0 329.0L339.0 328.3L340.0 327.5L341.0 326.8L342.0 326.0L343.0 325.2L344.0 324.5L345.0 323.7L346.0 323.0L347.0 322.2L348.0 321.4L349.0 320.7L350.0 319.9L351.0 319.1L352.0 318.4L353.0 317.6L354.0 316.8L355.0 316.1L356.0 315.3L357.0 314.5L358.0 313.7L359.0 313.0L360.0 312.2L361.0 311.4L362.0 310.6L363.0 309.9L364.0 309.1L365.0 308.3L366.0 307.5L367.0 306.7L368.0 305.9L369.0 305.1L370.0 304.3L371.0 303.5L372.0 302.7L373.0 301.9L374.0 301.1L375.0 300.3L376.0 299.5L377.0 298.7L378.0 297.9L379.0 297.1L380.0 296.3L381.0 295.5L382.0 294.7L383.0 293.8L384.0 293.0L385.0 292.2L386.0 291.4L387.0 290.6L388.0 289.7L389.0 288.9L390.0 288.1L391.0 287.2L392.0 286.4L393.0 285.6L394.0 284.7L395.0 283.9L396.0 283.1L397.0 282.2L398.0 281.4L399.0 280.5L400.0 279.7L401.0 278.8L402.0 278.0L403.0 277.1L404.0 276.3L405.0 275.4L406.0 274.5L407.0 273.7L408.0 272.8L409.0 271.9L410.0 271.1L411.0 270.2L412.0 269.3L413.0 268.5L414.0 267.6L415.0 266.7L416.0 265.8L417.0 265.0L418.0 264.1L419.0 263.2L420.0 262.3L421.0 261.4L422.0 260.5L423.0 259.6L424.0 258.7L425.0 257.9L426.0 257.0L427.0 256.1L428.0 255.2L429.0 254.3L430.0 253.4L431.0 252.5L432.0 251.6L433.0 250.7L434.0 249.7L435.0 248.8L436.0 247.9L437.0 247.0L438.0 246.1L439.0 245.2L440.0 244.3L441.0 243.4L442.0 242.4L443.0 241.5L444.0 240.6L445.0 239.7L446.0 238.8L447.0 237.8L448.0 236.9L449.0 236.0L450.0 235.1L451.0 234.1L451.1 234.0L452.0 235.0L453.0 236.1L453.0 236.1L454.0 235.1L455.0 234.2L456.0 233.3L457.0 232.3L458.0 231.4L459.0 230.5L460.0 229.5L461.0 228.6L462.0 227.7L463.0 226.7L464.0 225.8L465.0 224.9L466.0 223.9L467.0 223.0L468.0 222.1L469.0 221.1L470.0 220.2L471.0 219.2L472.0 218.3L473.0 217.4L474.0 216.4L475.0 215.5L476.0 214.6L477.0 213.6L478.0 212.7L479.0 211.7L480.0 210.8L481.0 209.9L482.0 208.9L483.0 208.0L484.0 207.1L485.0 206.1L486.0 205.2L487.0 204.3L488.0 203.3L489.0 202.4L490.0 201.5L491.0 200.6L492.0 199.6L493.0 198.7L494.0 197.8L495.0 196.9L496.0 195.9L497.0 195.0L498.0 194.1L499.0 193.2L500.0 192.3L501.0 191.3L502.0 190.4L503.0 189.5L504.0 188.6L505.0 187.7L506.0 186.8L507.0 185.9L508.0 185.0L509.0 184.1L510.0 183.2L511.0 182.3L512.0 181.4L513.0 180.5L514.0 179.6L515.0 178.8L516.0 177.9L517.0 177.0L518.0 176.1L519.0 175.3L520.0 174.4L521.0 173.5L522.0 172.7L523.0 171.8L524.0 170.9L525.0 170.1L526.0 169.2L527.0 168.4L528.0 167.6L529.0 166.7L530.0 165.9L531.0 165.1L532.0 164.2L532.7 163.7" stroke="#5B8DB8"/>
<path d="M54.5 389.0L54.8 374.0L55.6 383.0L56.2 373.5L57.2 382.0L57.8 376.5L58.8 384.5L59.4 380.0L60.6 386.0L61.4 383.0L62.6 387.5L63.6 386.5L65.0 388.6L68.0 389.5" stroke="#000000"/>
<path d="M66 389.5L196.0 389.5L197.0 389.5L198.0 389.5L199.0 389.5L200.0 389.5L201.0 389.5L202.0 389.5L203.0 389.5L204.0 389.5L205.0 389.5L206.0 389.2L207.0 389.2L208.0 389.1L209.0 389.1L210.0 389.1L211.0 389.0L212.0 388.9L213.0 388.8L214.0 388.7L215.0 388.6L216.0 388.4L217.0 388.2L218.0 388.0L219.0 387.8L220.0 387.5L221.0 387.2L222.0 386.8L223.0 386.5L224.0 386.1L225.0 385.6L226.0 385.1L227.0 384.6L228.0 384.0L229.0 383.4L230.0 382.8L231.0 382.0L232.0 381.3L233.0 380.5L234.0 379.6L235.0 378.7L236.0 377.7L237.0 376.6L238.0 375.5L239.0 374.4L240.0 373.2L241.0 371.9L242.0 370.6L243.0 369.3L244.0 367.9L245.0 366.5L246.0 365.0L247.0 363.5L248.0 361.9L249.0 360.3L250.0 358.7L251.0 357.0L252.0 355.3L253.0 353.6L254.0 351.9L255.0 350.1L256.0 348.3L257.0 346.5L258.0 344.6L259.0 342.8L260.0 340.9L261.0 339.0L262.0 337.1L263.0 335.2L264.0 333.2L265.0 331.3L266.0 329.3L267.0 327.4L268.0 325.4L269.0 323.4L270.0 321.5L271.0 319.5L272.0 317.6L273.0 315.6L274.0 313.7L275.0 311.7L276.0 309.8L277.0 307.9L278.0 306.0L279.0 304.1L280.0 302.2L281.0 300.3L282.0 298.5L283.0 296.6L284.0 294.8L285.0 293.0L286.0 291.2L287.0 289.4L288.0 287.6L289.0 285.8L290.0 284.0L291.0 282.2L292.0 280.5L293.0 278.8L294.0 277.1L295.0 275.4L296.0 273.7L297.0 272.0L298.0 270.4L299.0 268.8L300.0 267.3L301.0 265.8L302.0 264.3L303.0 262.8L304.0 261.4L305.0 259.9L306.0 258.6L307.0 257.2L308.0 255.8L309.0 254.5L310.0 253.2L311.0 251.9L312.0 250.6L313.0 249.3L314.0 248.0L315.0 246.7L316.0 245.5L317.0 244.2L318.0 243.0L319.0 241.7L320.0 240.5L321.0 239.2L322.0 238.0L323.0 236.8L324.0 235.5L325.0 234.3L326.0 233.1L327.0 231.9L328.0 230.6L329.0 229.4L330.0 228.2L331.0 227.0L332.0 225.8L333.0 224.6L334.0 223.4L335.0 222.3L336.0 221.1L337.0 219.9L338.0 218.8L339.0 217.6L340.0 216.5L341.0 215.3L342.0 214.2L343.0 213.1L344.0 211.9L345.0 210.8L346.0 209.7L347.0 208.6L348.0 207.5L349.0 206.4L350.0 205.3L351.0 204.2L352.0 203.1L353.0 202.0L354.0 200.9L355.0 199.9L356.0 198.8L357.0 197.7L358.0 196.7L359.0 195.6L360.0 194.5L361.0 193.5L362.0 192.4L363.0 191.4L364.0 190.4L365.0 189.3L366.0 188.3L367.0 187.2L368.0 186.2L369.0 185.2L370.0 184.2L371.0 183.1L372.0 182.1L373.0 181.1L374.0 180.1L375.0 179.1L376.0 178.1L377.0 177.1L378.0 176.1L379.0 175.1L380.0 174.1L381.0 173.1L382.0 172.1L383.0 171.1L384.0 170.2L385.0 169.2L386.0 168.2L387.0 167.2L388.0 166.3L389.0 165.3L390.0 164.4L391.0 163.4L392.0 162.4L393.0 161.5L394.0 160.5L395.0 159.6L396.0 158.7L397.0 157.7L398.0 156.8L399.0 155.9L400.0 154.9L401.0 154.0L402.0 153.1L403.0 152.2L404.0 151.2L405.0 150.3L406.0 149.4L407.0 148.5L408.0 147.6L409.0 146.7L410.0 145.8L411.0 144.9L412.0 144.1L413.0 143.2L414.0 142.3L415.0 141.4L416.0 140.6L417.0 139.7L418.0 138.8L419.0 138.0L420.0 137.1L421.0 136.3L422.0 135.4L423.0 134.6L424.0 133.7L425.0 132.9L426.0 132.1L427.0 131.3L428.0 130.4L429.0 129.6L430.0 128.8L431.0 128.0L432.0 127.2L433.0 126.4L434.0 125.6L435.0 124.8L436.0 124.0L437.0 123.3L438.0 122.5L439.0 121.7L440.0 121.0L441.0 120.2L442.0 119.4L443.0 118.7L444.0 117.9L445.0 117.2L446.0 116.5L447.0 115.7L448.0 115.0L449.0 114.3L450.0 113.6L451.0 112.9L451.1 112.8L452.0 112.2L453.0 111.5L453.0 111.5L454.0 110.8L455.0 110.1L456.0 109.4L457.0 108.7L458.0 108.1L459.0 107.4L460.0 106.7L461.0 106.1L462.0 105.4L463.0 104.8L464.0 104.1L465.0 103.5L466.0 102.9L467.0 102.2L468.0 101.6L469.0 101.0L470.0 100.4L471.0 99.8L472.0 99.2L473.0 98.6L474.0 98.0L475.0 97.4L476.0 96.8L477.0 96.2L478.0 95.7L479.0 95.1L480.0 94.5L481.0 94.0L482.0 93.4L483.0 92.9L484.0 92.3L485.0 91.8L486.0 91.3L487.0 90.7L488.0 90.2L489.0 89.7L490.0 89.2L491.0 88.7L492.0 88.2L493.0 87.7L494.0 87.1L495.0 86.7L496.0 86.2L497.0 85.7L498.0 85.2L499.0 84.7L500.0 84.2L501.0 83.7L502.0 83.3L503.0 82.8L504.0 82.3L505.0 81.9L506.0 81.4L507.0 80.9L508.0 80.5L509.0 80.0L510.0 79.6L511.0 79.1L512.0 78.7L513.0 78.2L514.0 77.8L515.0 77.3L516.0 76.9L517.0 76.4L518.0 76.0L519.0 75.5L520.0 75.1L521.0 74.6L522.0 74.2L523.0 73.7L524.0 73.3L525.0 72.8L526.0 72.4L527.0 71.9L528.0 71.5L529.0 71.0L530.0 70.5L531.0 70.1L532.0 69.6L532.7 69.3" stroke="#000000"/>
</g>
<rect x="54.2" y="14.0" width="478.5" height="375.4" fill="none" stroke="#000" stroke-width="1.3"/>
<g font-family="'Liberation Serif', 'Times New Roman', serif" font-size="19.5" fill="#000" stroke="#000" stroke-width="0.15">
<text x="79.7" y="413.4" text-anchor="middle">240</text>
<text x="130.1" y="413.4" text-anchor="middle">280</text>
<text x="180.4" y="413.4" text-anchor="middle">320</text>
<text x="230.8" y="413.4" text-anchor="middle">360</text>
<text x="281.2" y="413.4" text-anchor="middle">400</text>
<text x="331.5" y="413.4" text-anchor="middle">440</text>
<text x="381.9" y="413.4" text-anchor="middle">480</text>
<text x="432.3" y="413.4" text-anchor="middle">520</text>
<text x="482.6" y="413.4" text-anchor="middle">560</text>
<text x="533.0" y="413.4" text-anchor="middle">600</text>
<text x="46.2" y="395.8" text-anchor="end">0</text>
<text x="46.2" y="320.7" text-anchor="end">20</text>
<text x="46.2" y="245.6" text-anchor="end">40</text>
<text x="46.2" y="170.6" text-anchor="end">60</text>
<text x="46.2" y="95.5" text-anchor="end">80</text>
<text x="46.2" y="20.4" text-anchor="end">100</text>
</g>
<g font-family="'Liberation Serif', 'Times New Roman', serif" font-size="20" fill="#000" stroke="#000" stroke-width="0.15">
<text x="299.3" y="441.5" text-anchor="middle">Wavelength (nm)</text>
<text transform="translate(20.4 194.6) rotate(-90)" text-anchor="middle">Transmittance (%)</text>
</g>
<g font-family="'Liberation Serif', 'Times New Roman', serif" font-size="16.5" fill="#000" text-anchor="middle" stroke="#000" stroke-width="0.15">
<text x="97.8" y="300.3">UVC</text><text x="156.9" y="300.3">UVB</text><text x="228.9" y="299.3">UVA</text>
</g>
<g font-family="'Liberation Serif', 'Times New Roman', serif" font-size="17.8" fill="#000" stroke="#000" stroke-width="0.15">
<path d="M76.2 58.7H116.6" stroke="#000000" stroke-width="1.8" fill="none"/>
<text x="121.0" y="64.7">EHL</text>
<path d="M76.2 80.4H116.6" stroke="#FF0000" stroke-width="1.8" fill="none"/>
<text x="121.0" y="86.4">ChCl-LA-DEHL</text>
<path d="M76.2 102.2H116.6" stroke="#0000FF" stroke-width="1.8" fill="none"/>
<text x="121.0" y="108.2">ChCl-HAc-DEHL</text>
<path d="M76.2 123.9H116.6" stroke="#1ECCD0" stroke-width="1.8" fill="none"/>
<text x="121.0" y="129.9">ChCl-FA-DEHL</text>
<path d="M76.2 145.7H116.6" stroke="#8000FF" stroke-width="1.8" fill="none"/>
<text x="121.0" y="151.7">ChCl-OA-DEHL</text>
<path d="M76.2 167.4H116.6" stroke="#00E000" stroke-width="1.8" fill="none"/>
<text x="121.0" y="173.4">ChCl-MA-DEHL</text>
<path d="M76.2 189.1H116.6" stroke="#E25A9A" stroke-width="1.8" fill="none"/>
<text x="121.0" y="195.1">ChCl-CA-DEHL</text>
<path d="M76.2 210.9H116.6" stroke="#5B8DB8" stroke-width="1.8" fill="none"/>
<text x="121.0" y="216.9">ChCl-TsOH-DEHL</text>
</g>
</svg>
</body></html>
